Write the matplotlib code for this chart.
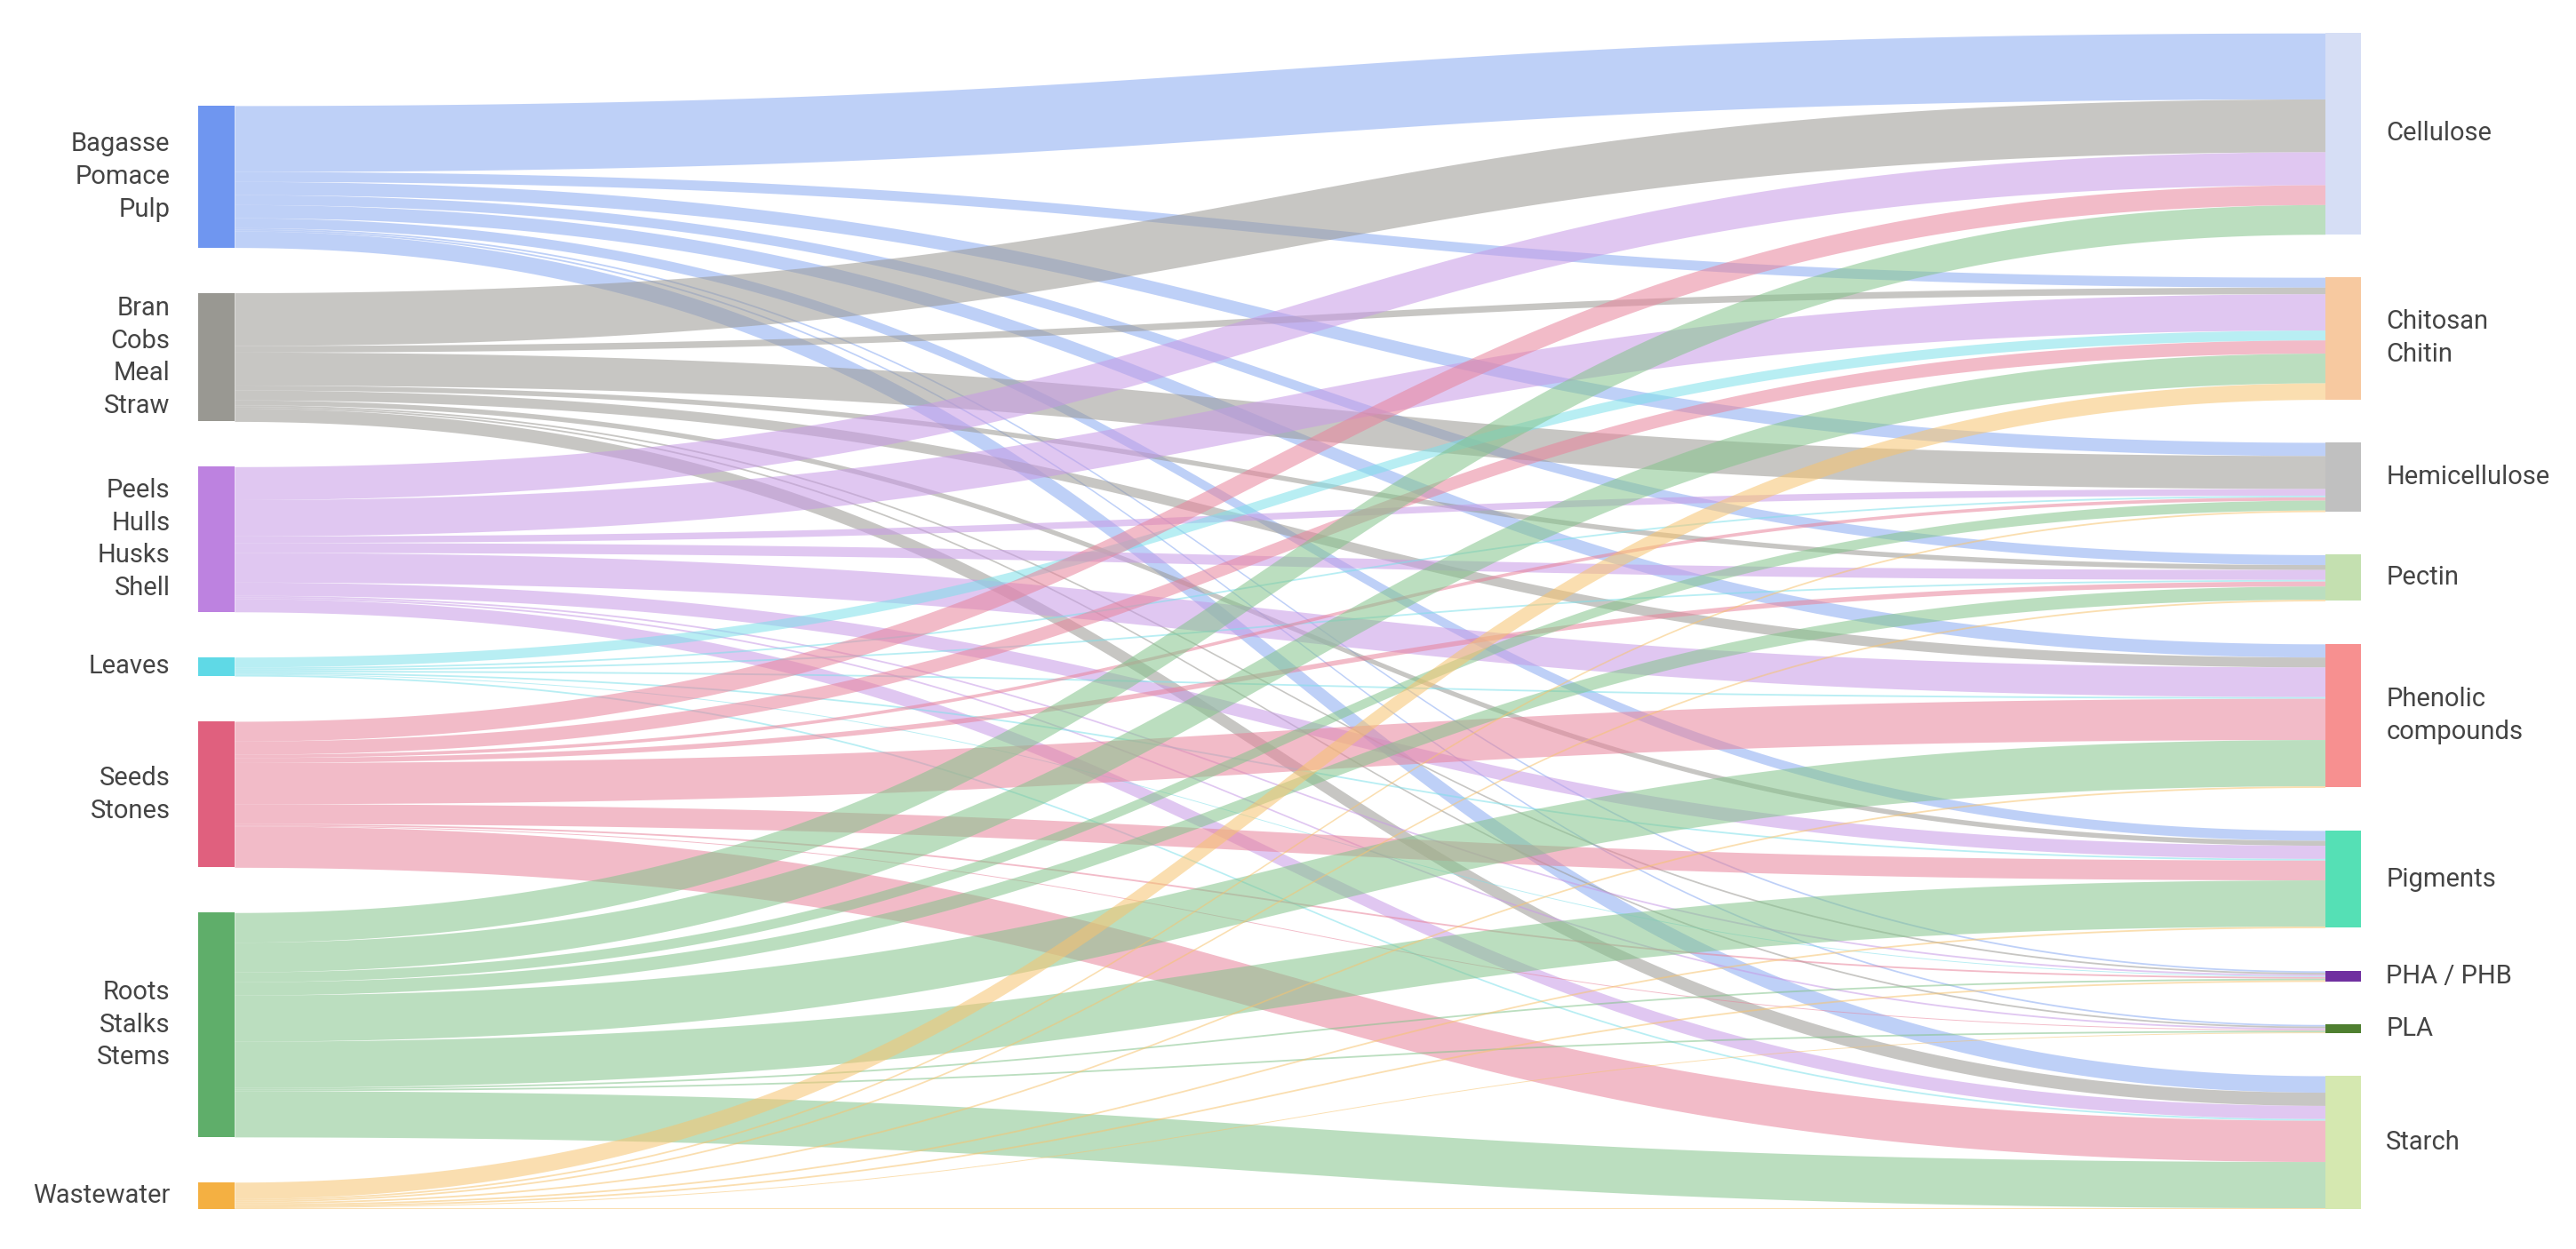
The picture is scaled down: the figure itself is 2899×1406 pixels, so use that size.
import matplotlib
matplotlib.use("Agg")
import matplotlib.pyplot as plt
import numpy as np

plt.rcParams['font.family'] = ['Roboto', 'DejaVu Sans']

sources = ["Bagasse\nPomace\nPulp", "Bran\nCobs\nMeal\nStraw", "Peels\nHulls\nHusks\nShell",
           "Leaves", "Seeds\nStones", "Roots\nStalks\nStems", "Wastewater"]
source_colors = ["#6f96f0", "#999892", "#bd82e0", "#5fd9e6", "#e0607e", "#5fae6a", "#f4b042"]
link_colors = ["#8aaaf2", "#9a9893", "#c79ae6", "#7fe0ea", "#e8839b", "#84c48c", "#f7c46f"]

targets = ["Cellulose", "Chitosan\nChitin", "Hemicellulose", "Pectin", "Phenolic\ncompounds",
           "Pigments", "PHA / PHB", "PLA", "Starch"]
target_colors = ["#d6def5", "#f7c9a0", "#c0c0c0", "#c4e0b0", "#f79090",
                 "#55e0b5", "#7030a0", "#4f7f30", "#d5e8b0"]

# flow values: rows = sources, cols = targets
flows = np.array([
    [40, 6, 8, 6, 8, 6, 1, 1, 10],      # Bagasse
    [32, 4, 20, 3, 6, 3, 1, 1, 8],      # Bran
    [20, 22, 4, 6, 18, 8, 1, 1, 8],     # Peels
    [0, 6, 1, 1, 1, 1, 0.5, 0, 1],      # Leaves
    [12, 8, 2, 3, 25, 12, 1, 0.5, 25],  # Seeds
    [18, 18, 6, 8, 28, 28, 1, 1, 28],   # Roots
    [0, 10, 1, 1, 1, 1, 1, 0.5, 1],     # Wastewater
])

W, H = 1560, 757
fig = plt.figure(figsize=(28.99, 14.06), dpi=100)
ax = fig.add_axes([0, 0, 1, 1])
ax.set_xlim(0, W)
ax.set_ylim(H, 0)
ax.axis('off')

xl0, xl1 = 120, 142
xr0, xr1 = 1408, 1430

def layout(totals, top, bottom):
    gap = (bottom - top - totals.sum()) / (len(totals) - 1)
    tops = []
    y = top
    for t in totals:
        tops.append(y)
        y += t + gap
    return np.array(tops)

src_tot = flows.sum(axis=1)
tgt_tot = flows.sum(axis=0)
src_top = layout(src_tot, 64, 733)
tgt_top = layout(tgt_tot, 20, 733)

# link offsets
src_off = src_top.copy()
tgt_off = tgt_top.copy()
s0 = {}
for i in range(len(sources)):
    for j in range(len(targets)):
        s0[(i, j)] = src_off[i]
        src_off[i] += flows[i, j]
t0 = {}
for j in range(len(targets)):
    for i in range(len(sources)):
        t0[(i, j)] = tgt_off[j]
        tgt_off[j] += flows[i, j]

s = np.linspace(0, 1, 200)
xm = (xl1 + xr0) / 2
bx = xl1 * (1 - s)**3 + 3 * xm * (1 - s)**2 * s + 3 * xm * (1 - s) * s**2 + xr0 * s**3
blend = 3 * s**2 - 2 * s**3
for i in range(len(sources)):
    for j in range(len(targets)):
        v = flows[i, j]
        if v <= 0:
            continue
        ya, yb = s0[(i, j)], t0[(i, j)]
        top = ya + (yb - ya) * blend
        ax.fill_between(bx, top, top + v, color=link_colors[i], alpha=0.55, lw=0)

for i, name in enumerate(sources):
    ax.add_patch(plt.Rectangle((xl0, src_top[i]), xl1 - xl0, src_tot[i], color=source_colors[i], lw=0))
    ax.text(103, src_top[i] + src_tot[i] / 2, name, ha='right', va='center', fontsize=21,
            color='#444444', linespacing=1.4, multialignment='right')
for j, name in enumerate(targets):
    ax.add_patch(plt.Rectangle((xr0, tgt_top[j]), xr1 - xr0, tgt_tot[j], color=target_colors[j], lw=0))
    ax.text(1445, tgt_top[j] + tgt_tot[j] / 2, name, ha='left', va='center', fontsize=21,
            color='#444444', linespacing=1.4)

fig.savefig("out.png", dpi=100, facecolor='white')
